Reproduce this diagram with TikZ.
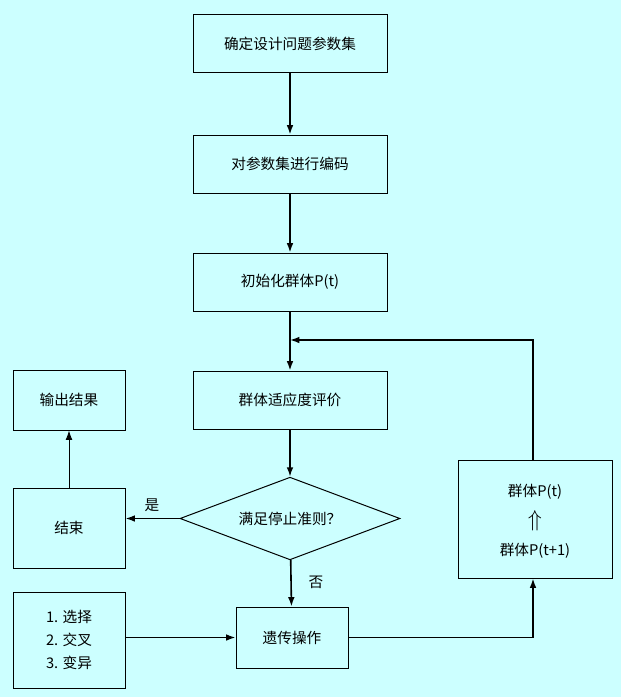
\documentclass[tikz,border=0pt]{standalone}
\usepackage{fontspec}
\setmainfont{Noto Sans CJK SC}
\usetikzlibrary{shapes.geometric,arrows.meta}
\definecolor{bgcyan}{RGB}{204,255,255}
\tikzset{every picture/.style={line width=0.75pt}}
\newcommand{\cjkfont}{\fontsize{11}{14}\selectfont}
\tikzset{
  box/.style={draw,fill=bgcyan,minimum width=145.5pt,minimum height=43.5pt,inner sep=0.75pt,font=\cjkfont},
  sbox/.style={draw,fill=bgcyan,minimum width=84pt,minimum height=45pt,inner sep=0.75pt,font=\cjkfont},
  flow/.style={line width=1.2pt,-{Latex[length=7pt,width=5pt]}},
  thin/.style={line width=0.6pt,-{Latex[length=7pt,width=5pt]}}
}
\begin{document}
\begin{tikzpicture}[x=0.75pt,y=0.75pt,yscale=-1,xscale=1]
\fill [bgcyan] (0,0) rectangle (621,697);
\useasboundingbox (0,0) rectangle (621,697);

% Main column
\draw (290,43.5) node [box] (setup) {确定设计问题参数集};
\draw (290,164) node [box] (encode) {对参数集进行编码};
\draw (290,282) node [box] (init) {初始化群体P(t)};
\draw (290,400) node [box] (eval) {群体适应度评价};
\draw (290,518.5) node [draw,diamond,aspect=2.66,inner sep=0pt,minimum width=165pt,minimum height=62pt,font=\cjkfont] (stop) {满足停止准则？};
\draw (292,637.5) node [draw,minimum width=84pt,minimum height=45.75pt,inner sep=0.75pt,font=\cjkfont] (genop) {遗传操作};

% Left column
\draw (69,400) node [sbox] (output) {输出结果};
\draw (69,528) node [sbox,minimum height=60pt] (finish) {结束};
\draw (69,640) node [sbox,minimum height=72pt,align=left] (ops) {1. 选择\\[3pt]2. 交叉\\[3pt]3. 变异};

% Right box
\draw (535,519) node [draw,minimum width=115.5pt,minimum height=88.5pt] (pop) {};
\draw (535,492) node [font=\cjkfont] (popt) {群体P(t)};
\draw (535,551) node [font=\cjkfont] (popt1) {群体P(t+1)};
\draw (535,521) node [font=\LARGE] (uparr) {$\Uparrow$};

\coordinate (corner1) at (533,340);
\coordinate (join) at (290,340);
\coordinate (corner2) at (533,637.5);

% Connectors
\draw [flow] (setup) -- (encode);
\draw [flow] (encode) -- (init);
\draw [flow] (init) -- (eval);
\draw [flow] (eval) -- (stop);
\draw [flow] (stop) -- (genop);
\draw [flow] (stop.west) -- (stop.west -| finish.east);
\draw [thin] (finish) -- (output);
\draw [flow] (genop.west -| ops.east) -- (genop.west);
\draw [flow] (genop) -- (corner2) -- (pop.south -| corner2);
\draw [flow] (pop.north -| corner1) -- (corner1) -- (join);

% Labels
\draw (152,505) node [font=\cjkfont] (yes) {是};
\draw (316,582) node [font=\cjkfont] (no) {否};
\end{tikzpicture}
\end{document}
